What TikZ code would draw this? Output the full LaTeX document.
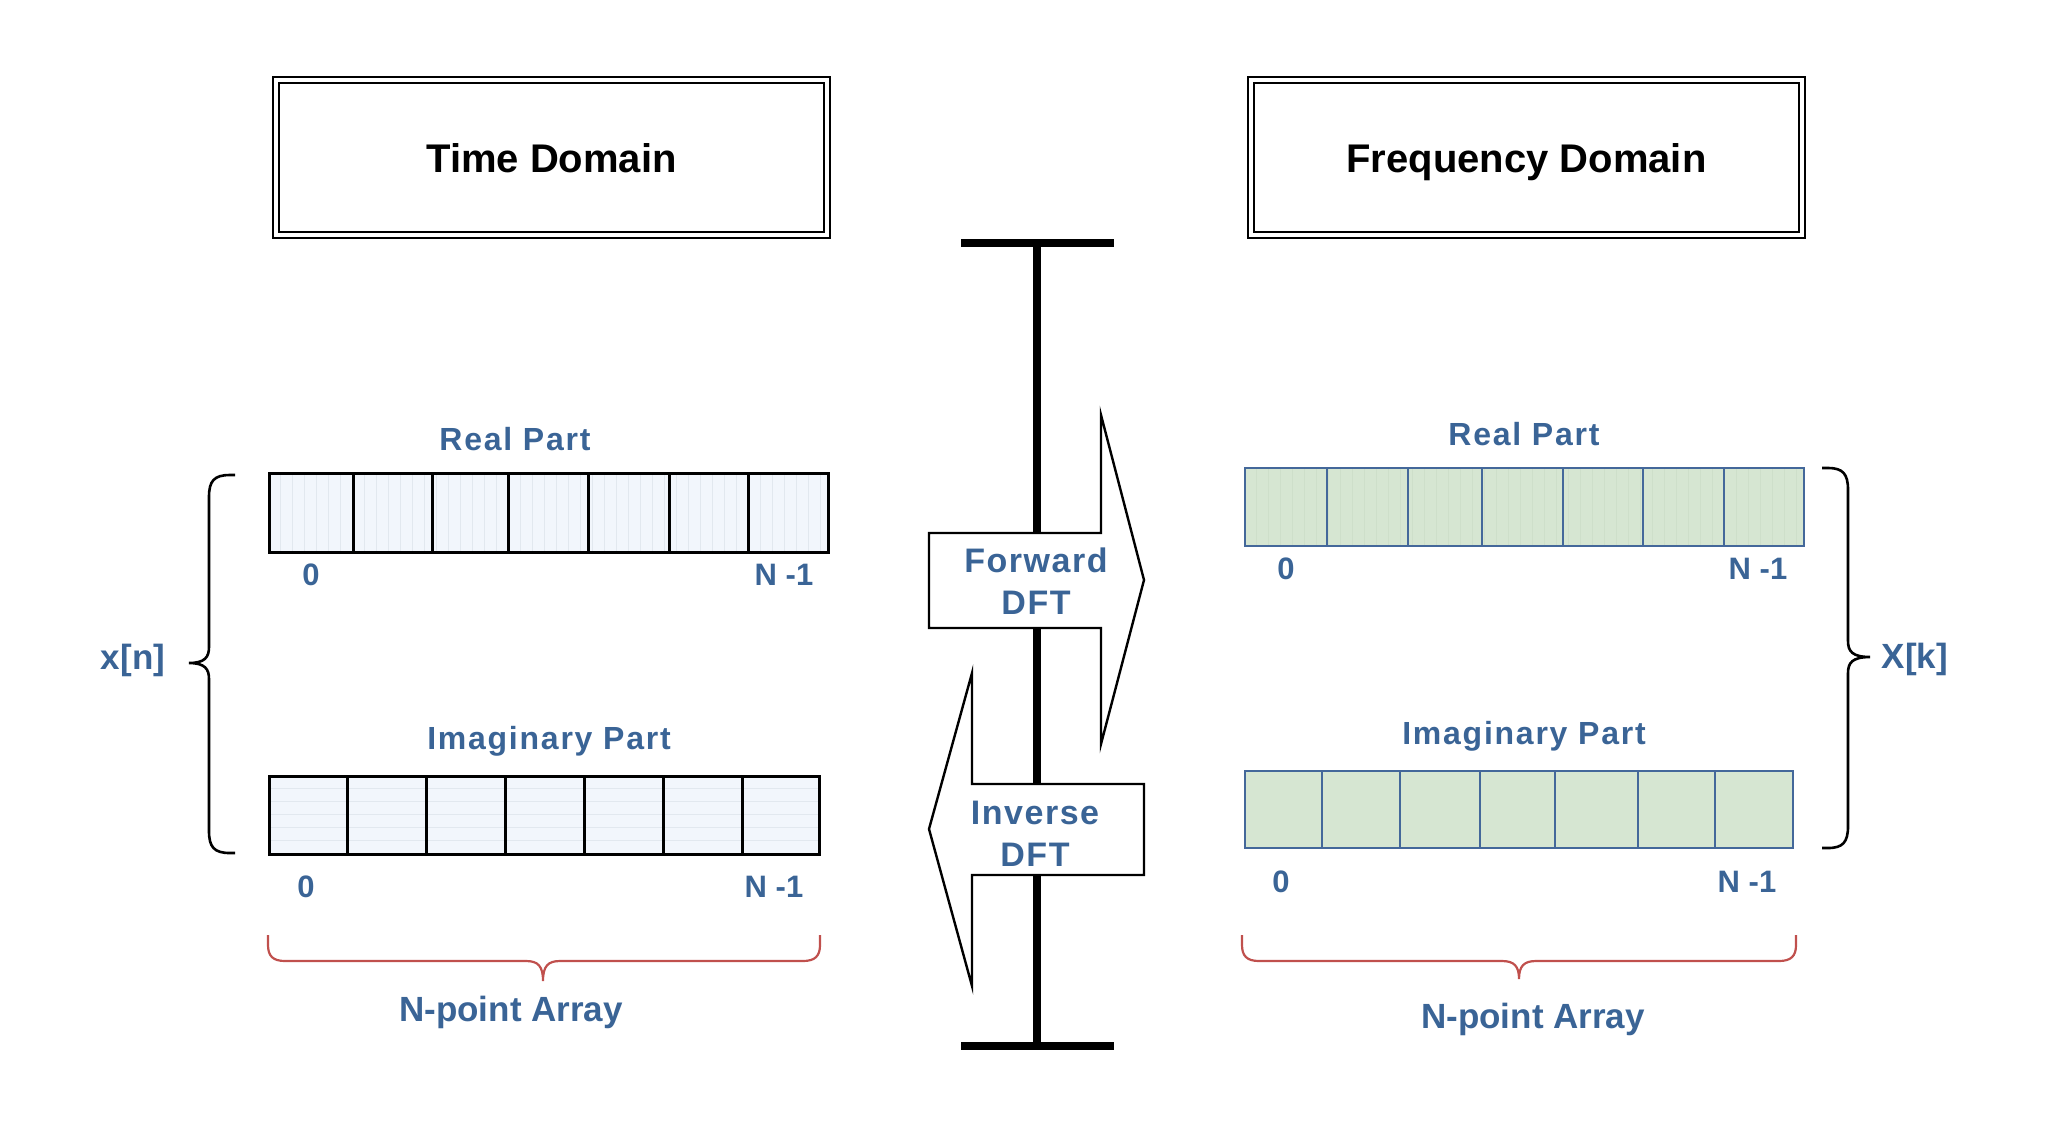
\documentclass[tikz,border=0pt]{standalone}
\usepackage{fontspec}
\setmainfont{Liberation Sans}
\newfontfamily\spcfont[LetterSpace=5.5]{Liberation Sans}
\newfontfamily\arrfont[LetterSpace=4.5]{Liberation Sans}
\definecolor{lblue}{HTML}{3A6496}
\definecolor{tfill}{HTML}{F2F6FC}
\definecolor{tstripe}{HTML}{E2E8EF}
\definecolor{gfill}{HTML}{D6E6D2}
\definecolor{gstripe}{HTML}{CEDFCA}
\definecolor{gedge}{HTML}{44689A}
\definecolor{bred}{HTML}{C0504D}
\tikzset{
  titlebox/.style={draw, double, line width=1pt, double distance=2pt, fill=white,
    font=\bfseries\fontsize{20}{24}\selectfont, inner sep=0pt, text depth=0pt},
  partlbl/.style={text=lblue, font=\spcfont\bfseries\fontsize{16}{19}\selectfont, inner sep=0pt, text depth=0pt},
  idxlbl/.style={text=lblue, font=\bfseries\fontsize{15.5}{18}\selectfont, inner sep=0pt, text depth=0pt},
  arrlbl/.style={text=lblue, font=\bfseries\fontsize{17.5}{21}\selectfont, inner sep=0pt, text depth=0pt},
  dftlbl/.style={text=lblue, font=\arrfont\bfseries\fontsize{17}{20}\selectfont, inner sep=0pt, align=center},
  tcell/.style={draw=black, line width=1.5pt},
  gcell/.style={draw=gedge, line width=1.4pt},
  ibar/.style={line width=4pt, black},
  bigarrow/.style={draw=black, fill=white, line width=1.2pt, line join=miter},
  blackbrace/.style={draw=black, line width=1.3pt},
  redbrace/.style={draw=bred, line width=1.1pt},
}
\begin{document}
\begin{tikzpicture}[x=0.5pt, y=-0.5pt]
\useasboundingbox (0,0) rectangle (2048,1131);

% title boxes
\node[titlebox, minimum width=275.5pt, minimum height=77.5pt] (td) at (551.5,157.5) {Time Domain};
\node[titlebox, minimum width=275.5pt, minimum height=77.5pt] (fd) at (1526.5,157.5) {Frequency Domain};

% ---------- time domain, real part ----------
\fill[tfill] (269,473) rectangle (828,552);
\foreach \x in {280,292,...,828} \draw[tstripe, line width=0.5pt] (\x,473) -- (\x,552);
\foreach \a/\b in {269/353,353/432,432/508,508/588,588/669,669/748,748/828}
  \draw[tcell] (\a,473) rectangle (\b,552);
\node[partlbl] (trl) at (515,439) {Real Part};
\node[idxlbl] (tr0) at (311,575) {0};
\node[idxlbl] (trn) at (784,575) {N -1};

% ---------- time domain, imaginary part ----------
\fill[tfill] (269,776) rectangle (819,854);
\foreach \y in {788,801,814,827,840} \draw[tstripe, line width=0.5pt] (269,\y) -- (819,\y);
\foreach \a/\b in {269/347,347/426,426/505,505/584,584/663,663/742,742/819}
  \draw[tcell] (\a,776) rectangle (\b,854);
\node[partlbl] (til) at (549,738) {Imaginary Part};
\node[idxlbl] (ti0) at (306,887) {0};
\node[idxlbl] (tin) at (774,887) {N -1};

% ---------- frequency domain, real part ----------
\fill[gfill] (1245,468) rectangle (1804,546);
\foreach \x in {1256,1268,...,1804} \draw[gstripe, line width=0.4pt] (\x,468) -- (\x,546);
\foreach \a/\b in {1245/1327,1327/1408,1408/1482,1482/1563,1563/1643,1643/1724,1724/1804}
  \draw[gcell] (\a,468) rectangle (\b,546);
\node[partlbl] (frl) at (1524,434) {Real Part};
\node[idxlbl] (fr0) at (1286,569) {0};
\node[idxlbl] (frn) at (1758,569) {N -1};

% ---------- frequency domain, imaginary part ----------
\fill[gfill] (1245,771) rectangle (1793,848);
\foreach \a/\b in {1245/1322,1322/1400,1400/1480,1480/1555,1555/1638,1638/1715,1715/1793}
  \draw[gcell] (\a,771) rectangle (\b,848);
\node[partlbl] (fil) at (1524,733) {Imaginary Part};
\node[idxlbl] (fi0) at (1281,882) {0};
\node[idxlbl] (fin) at (1747,882) {N -1};

% ---------- braces ----------
\draw[blackbrace] (235,475) -- (230,475) .. controls (214,475) and (209,481) .. (209,497)
  -- (209,647) .. controls (209,657) and (205,663) .. (189,663)
  .. controls (205,663) and (209,669) .. (209,679)
  -- (209,831) .. controls (209,847) and (214,853) .. (230,853) -- (235,853);
\node[arrlbl] (xn) at (133,657) {x[n]};

\draw[blackbrace] (1822,468) -- (1828,468) .. controls (1843,468) and (1848,474) .. (1848,490)
  -- (1848,641) .. controls (1848,651) and (1852,657) .. (1870,657)
  .. controls (1852,657) and (1848,663) .. (1848,673)
  -- (1848,826) .. controls (1848,842) and (1843,848) .. (1828,848) -- (1822,848);
\node[arrlbl] (xk) at (1915,656) {X[k]};

\draw[redbrace] (268,935) -- (268,945) .. controls (268,956) and (273,961) .. (285,961)
  -- (526,961) .. controls (538,961) and (543,966) .. (543,981)
  .. controls (543,966) and (548,961) .. (560,961)
  -- (803,961) .. controls (815,961) and (820,956) .. (820,945) -- (820,935);
\node[arrlbl] (tna) at (511,1009) {N-point Array};

\draw[redbrace] (1242,935) -- (1242,945) .. controls (1242,956) and (1247,961) .. (1259,961)
  -- (1502,961) .. controls (1514,961) and (1519,966) .. (1519,979)
  .. controls (1519,966) and (1524,961) .. (1536,961)
  -- (1779,961) .. controls (1791,961) and (1796,956) .. (1796,945) -- (1796,935);
\node[arrlbl] (fna) at (1533,1016) {N-point Array};

% ---------- central bar ----------
\coordinate (bt) at (1037,243);
\coordinate (bb) at (1037,1046);
\draw[ibar] (961,243) -- (1114,243);
\draw[ibar] (961,1046) -- (1114,1046);
\draw[ibar] (bt) -- (bb);

% ---------- DFT arrows ----------
\draw[bigarrow] (929,533) -- (1101,533) -- (1101,415) -- (1144,580) -- (1101,744)
  -- (1101,628) -- (929,628) -- cycle;
\node[dftlbl] (fwd) at (1036,581) {Forward\\[1pt]DFT};

\draw[bigarrow] (1144,784) -- (972,784) -- (972,673) -- (929,829) -- (972,986)
  -- (972,875) -- (1144,875) -- cycle;
\node[dftlbl] (inv) at (1035,834) {Inverse\\[1pt]DFT};
\end{tikzpicture}
\end{document}
